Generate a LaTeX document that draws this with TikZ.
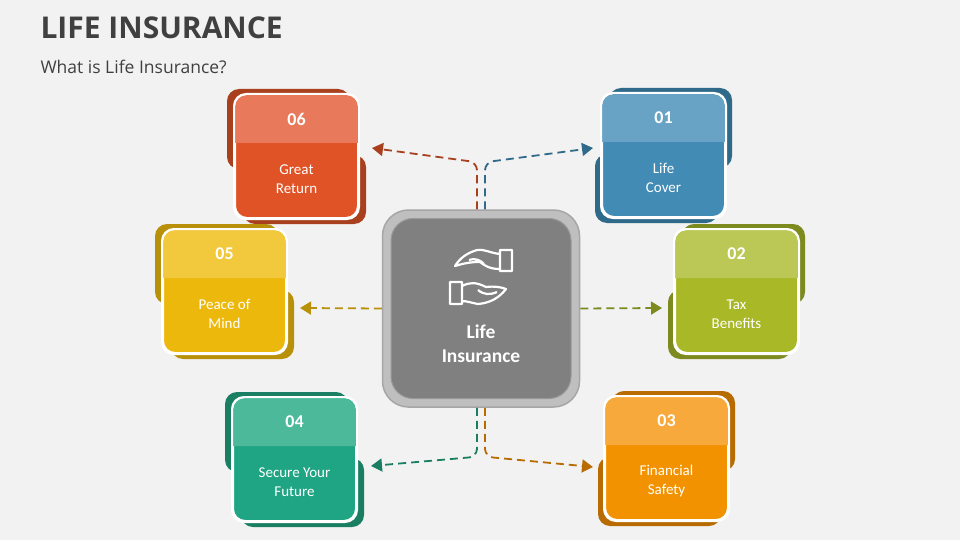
\documentclass[tikz,border=0pt]{standalone}
\usepackage{fontspec}
\setmainfont{Carlito}
\newfontfamily\titlefont{Open Sans}
\usetikzlibrary{arrows.meta,positioning}

\definecolor{bgc}{HTML}{F2F2F2}
\definecolor{ttl}{HTML}{404040}
\definecolor{rh}{HTML}{E8795A}\definecolor{rb}{HTML}{E05326}\definecolor{rd}{HTML}{A8401E}
\definecolor{bh}{HTML}{68A3C6}\definecolor{bb}{HTML}{428BB5}\definecolor{bd}{HTML}{2F6A8A}
\definecolor{yh}{HTML}{F2C83C}\definecolor{yb}{HTML}{EDB80C}\definecolor{yd}{HTML}{B8900A}
\definecolor{gh}{HTML}{BBC855}\definecolor{gb}{HTML}{A8B826}\definecolor{gd}{HTML}{7D8A1E}
\definecolor{th}{HTML}{4BB99A}\definecolor{tb}{HTML}{20A584}\definecolor{td}{HTML}{1A7E62}
\definecolor{oh}{HTML}{F8A93B}\definecolor{ob}{HTML}{F39200}\definecolor{od}{HTML}{B86B00}

\tikzset{
  cardbox/.style={draw=white, line width=2pt, rounded corners=12pt, minimum size=123pt, inner sep=0pt},
  link/.style={dash pattern=on 8pt off 5pt, line width=1.8pt, rounded corners=8pt,
    -{Triangle[width=13pt,length=11pt]}},
  num/.style={text=white, font=\fontsize{18}{20}\selectfont\bfseries},
  label/.style={text=white, align=center, font=\fontsize{15}{19}\selectfont}
}

% #1 name, #2 x, #3 y, #4 shadow shift, #5 colour, #6 number, #7 text
\newcommand\card[7]{%
  \fill[#5d, rounded corners=12pt] (#2+#4,#3-6) rectangle ++(123,80);
  \fill[#5d, rounded corners=12pt] (#2-#4,#3+60) rectangle ++(123,69);
  \node[cardbox, fill=#5b] (#1) at (#2+61.5,#3+61.5) {};
  \fill[#5h] (#2,#3+48) {[rounded corners=12pt] -- (#2,#3) -- (#2+123,#3)} -- (#2+123,#3+48) -- cycle;
  \draw[white, line width=2pt, rounded corners=12pt] (#1.south west) rectangle (#1.north east);
  \node[num] at (#2+61.5,#3+24) {#6};
  \node[label] at (#2+61.5,#3+84) {#7};
}

\begin{document}
\begin{tikzpicture}[x=1pt, y=-1pt]
  \fill[bgc] (0,0) rectangle (960,540);
  \useasboundingbox (0,0) rectangle (960,540);

  \node[anchor=west, text=ttl, font=\titlefont\fontsize{30}{34}\selectfont\bfseries] (title) at (37,28) {LIFE INSURANCE};
  \node[anchor=west, text=ttl, font=\titlefont\fontsize{17.5}{20}\selectfont] (sub) at (37,67) {What is Life Insurance?};

  % cards
  \card{c6}{235}{95}{-8}{r}{06}{Great\\Return}
  \card{c1}{602}{94}{7}{b}{01}{Life\\Cover}
  \card{c5}{163}{230}{-8}{y}{05}{Peace of\\Mind}
  \card{c2}{675}{230}{7}{g}{02}{Tax\\Benefits}
  \card{c4}{233}{398}{-8}{t}{04}{Secure Your\\Future}
  \card{c3}{605}{397}{7}{o}{03}{Financial\\Safety}

  % centre
  \node[fill=black!25, draw=black!35, line width=1.5pt, rounded corners=26pt, minimum size=197pt] (core) at (481,308.5) {};
  \node[fill=black!50, draw=black!40, line width=1pt, rounded corners=22pt, minimum size=180pt,
    text=white, align=center, font=\fontsize{19.5}{24}\selectfont\bfseries, text depth=0pt] (inner) at (core) {\\[60pt]Life\\Insurance};

  % icon
  \draw[white, line width=2.2pt, line join=round]
    (500,250) rectangle (512,271)
    (500,254) .. controls (490,253) and (485,249) .. (477,250) .. controls (467,253) and (460,258) .. (455,266)
      .. controls (468,262) and (475,262) .. (480,262) .. controls (485,266) and (490,269) .. (500,269)
    (469,260) .. controls (476,258) and (480,260) .. (484,264);
  \draw[white, line width=2.2pt, line join=round]
    (450,282) rectangle (462,304)
    (462,286) .. controls (470,282) and (476,282) .. (486,287) .. controls (494,286) and (501,287) .. (506,289)
      .. controls (499,298) and (490,303) .. (478,304) .. controls (472,303) and (467,301) .. (462,301)
    (478,290) .. controls (484,295) and (490,295) .. (497,292);

  % connectors
  \coordinate (t6) at (372,148); \coordinate (t1) at (593,148);
  \coordinate (t5) at (300,308); \coordinate (t2) at (662,308);
  \coordinate (t4) at (371,466); \coordinate (t3) at (593,467);
  \draw[link, rd] ([xshift=-4pt]core.north) -- ++(0,-47) -- (t6);
  \draw[link, bd] ([xshift=4pt]core.north) -- ++(0,-47) -- (t1);
  \draw[link, yd] (core.west) -- (t5);
  \draw[link, gd] (core.east) -- (t2);
  \draw[link, td] ([xshift=-4pt]core.south) -- ++(0,49) -- (t4);
  \draw[link, od] ([xshift=4pt]core.south) -- ++(0,49) -- (t3);
\end{tikzpicture}
\end{document}
